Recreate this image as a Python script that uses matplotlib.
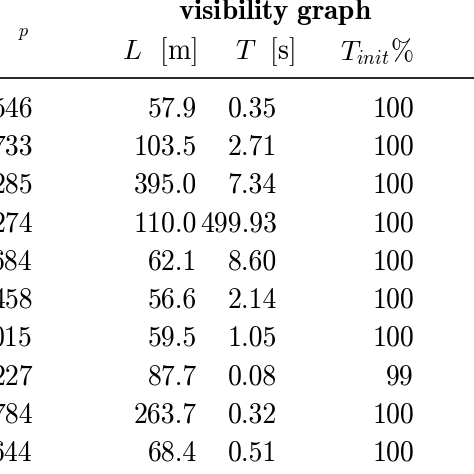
import matplotlib
matplotlib.use("Agg")
import matplotlib.pyplot as plt
plt.rcParams['mathtext.fontset'] = 'cm'
plt.rcParams['font.family'] = 'cmr10'

left_col = ["546", "733", "285", "274", "684", "458", "015", "227", "784", "644"]
L_vals = ["57.9", "103.5", "395.0", "110.0", "62.1", "56.6", "59.5", "87.7", "263.7", "68.4"]
T_vals = ["0.35", "2.71", "7.34", "499.93", "8.60", "2.14", "1.05", "0.08", "0.32", "0.51"]
Tinit_vals = ["100", "100", "100", "100", "100", "100", "100", "99", "100", "100"]

W = H = 474
fig = plt.figure(figsize=(4.74, 4.74), dpi=100)
ax = fig.add_axes([0, 0, 1, 1])
ax.set_xlim(0, W); ax.set_ylim(H, 0); ax.axis('off')
fs = 20

ax.text(275, 12, r"$\mathbf{visibility\ graph}$", fontsize=21, ha='center', va='center')
ax.text(30, 34, r"$p$", fontsize=13, ha='right', va='center')
ax.text(197, 52, r"$L$  [m]", fontsize=fs, ha='right', va='center')
ax.text(295, 52, r"$T$  [s]", fontsize=fs, ha='right', va='center')
ax.text(414, 52, r"$T_{init}$%", fontsize=fs, ha='right', va='center')
ax.plot([0, W], [78, 78], color='black', lw=1.2)

y0, dy = 109, 38.3
for i in range(len(L_vals)):
    y = y0 + i * dy
    ax.text(33, y, left_col[i], fontsize=fs, ha='right', va='center')
    ax.text(197, y, L_vals[i], fontsize=fs, ha='right', va='center')
    ax.text(277, y, T_vals[i], fontsize=fs, ha='right', va='center')
    ax.text(414, y, Tinit_vals[i], fontsize=fs, ha='right', va='center')

fig.savefig("out.png", dpi=100)
